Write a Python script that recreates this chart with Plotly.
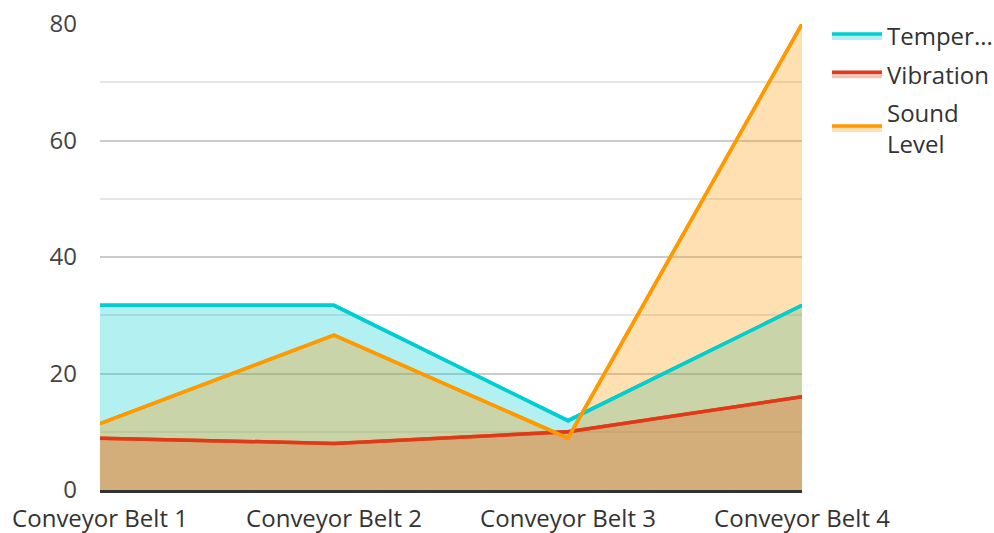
import plotly.graph_objects as go

categories = ["Conveyor Belt 1", "Conveyor Belt 2", "Conveyor Belt 3", "Conveyor Belt 4"]
temperature = [31.7, 31.7, 11.9, 31.7]
vibration = [8.9, 8.0, 10.0, 16.0]
sound_level = [11.4, 26.6, 8.9, 80]
series_names = ["Temper...", "Vibration", "Sound<br>Level"]

line_colors = ["#00CED1", "#E0391A", "#FF9900"]
fill_colors = ["rgba(0,206,209,0.3)", "rgba(224,57,26,0.3)", "rgba(255,153,0,0.3)"]
series_values = [temperature, vibration, sound_level]

fig = go.Figure()
# filled areas (with legend entries)
for i, (name, vals, lc, fc) in enumerate(zip(series_names, series_values, line_colors, fill_colors)):
    fig.add_trace(go.Scatter(
        x=categories, y=vals, name=name, mode="lines", legendgroup=f"g{i}",
        line=dict(color=lc, width=3.5), fill="tozeroy", fillcolor=fc,
        hoverinfo="skip",
    ))
# lines drawn on top of all fills
for i, (name, vals, lc) in enumerate(zip(series_names, series_values, line_colors)):
    fig.add_trace(go.Scatter(
        x=categories, y=vals, name=name, mode="lines", legendgroup=f"g{i}",
        line=dict(color=lc, width=3.5), showlegend=False,
    ))

fig.update_layout(
    width=994, height=533,
    margin=dict(l=100, r=192, t=24, b=43),
    paper_bgcolor="white", plot_bgcolor="white",
    font=dict(family="Open Sans", size=24, color="#444"),
    legend=dict(xref="container", yref="container", x=0.832, y=0.974,
                xanchor="left", yanchor="top", itemwidth=50,
                font=dict(size=24, color="#333"), tracegroupgap=4),
    showlegend=True,
)
fig.update_xaxes(type="category", range=[0, 3], showgrid=False, automargin=False,
                 showline=True, linecolor="#333", linewidth=3,
                 ticks="", tickfont=dict(size=24, color="#333"), ticklabelstandoff=5)
fig.update_yaxes(range=[0, 80], dtick=20, showgrid=True, gridcolor="#cccccc",
                 gridwidth=1.5, zeroline=False, showline=False, automargin=False,
                 minor=dict(dtick=10, showgrid=True, gridcolor="#e6e6e6", gridwidth=1.5),
                 tickfont=dict(size=24, color="#444"), ticklabelstandoff=22)

fig.write_html("out.html", config={"displayModeBar": False},
               post_script="document.body.style.margin='0';")
